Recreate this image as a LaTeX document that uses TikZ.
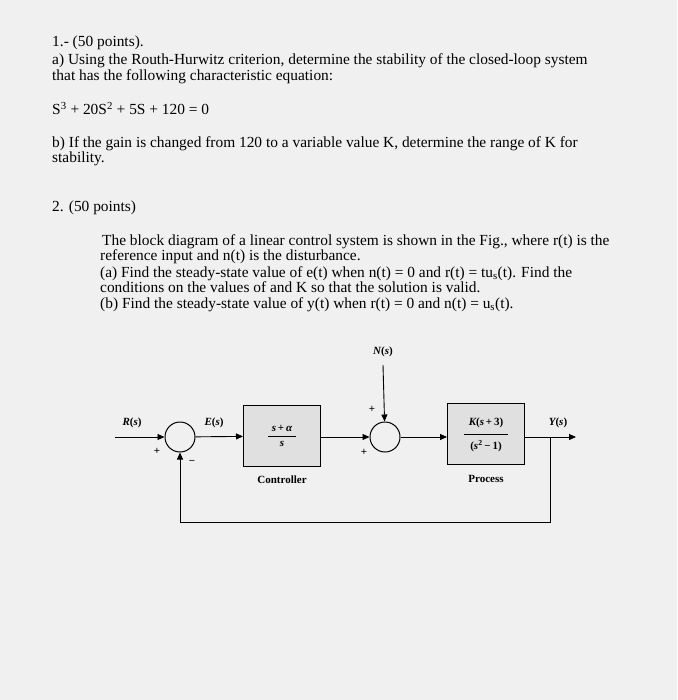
\documentclass[tikz,border=0pt]{standalone}
\usepackage{fontspec}
\setmainfont{Liberation Serif}
\usetikzlibrary{arrows.meta}
\begin{document}
\begin{tikzpicture}[x=1pt,y=-1pt,
  txt/.style={anchor=base west,inner sep=0pt,font=\fontsize{15.4}{16}\selectfont},
  lbl/.style={inner sep=0pt,font=\fontsize{11}{12}\selectfont\bfseries},
  blk/.style={draw,line width=1pt,fill=black!12,minimum width=77pt,minimum height=61pt},
  sumc/.style={draw,line width=1pt,circle,minimum size=30pt,inner sep=0pt},
  sig/.style={line width=0.9pt,-{Triangle[length=7pt,width=6pt]}},
  ln/.style={line width=0.8pt}]
\fill[black!6] (0,0) rectangle (677,700);
\useasboundingbox (0,0) rectangle (677,700);
\node[txt] (t1) at (52,47) {1.- (50 points).};
\node[txt] (t2) at (52,65) {a) Using the Routh-Hurwitz criterion, determine the stability of the closed-loop system};
\node[txt] (t3) at (52,81) {that has the following characteristic equation:};
\node[txt] (t4) at (52,115) {S\textsuperscript{3} + 20S\textsuperscript{2} + 5S + 120 = 0};
\node[txt] (t5) at (52,148) {b) If the gain is changed from 120 to a variable value K, determine the range of K for};
\node[txt] (t6) at (52,163) {stability.};
\node[txt] (t7) at (52,212) {2. (50 points)};
\node[txt] (t8) at (102,245) {The block diagram of a linear control system is shown in the Fig., where r(t) is the};
\node[txt] (t9) at (100,261) {reference input and n(t) is the disturbance.};
\node[txt] (t10) at (100,277) {(a) Find the steady-state value of e(t) when n(t) = 0 and r(t) = tu\textsubscript{s}(t). Find the};
\node[txt] (t11) at (100,292) {conditions on the values of and K so that the solution is valid.};
\node[txt] (t12) at (100,308) {(b) Find the steady-state value of y(t) when r(t) = 0 and n(t) = u\textsubscript{s}(t).};
% diagram
\coordinate (in) at (115,437);
\node[sumc] (s1) at (180,437) {};
\node[blk] (ctl) at (282,436) {};
\node[lbl] at (282,428) {\itshape s\,\upshape+\,\itshape α};
\draw[ln] (268,436) -- (296,436);
\node[lbl] at (282,444) {\itshape s};
\node[sumc] (s2) at (385,437) {};
\node[blk] (pr) at (486,434) {};
\node[lbl] at (486,423) {\itshape K\upshape(\itshape s\upshape\,+\,3)};
\draw[ln] (464,434) -- (508,434);
\node[lbl] at (486,446) {(\itshape s\upshape\textsuperscript{2}\,−\,1)};
\coordinate (out) at (576,437);
\coordinate (tap) at (550,437);
\coordinate (nn) at (383,365);
\draw[sig] (in) -- (s1);
\draw[sig] (s1) -- (ctl);
\draw[sig] (ctl.east |- s2) -- (s2);
\draw[sig] (s2) -- (pr.west |- s2);
\draw[sig] (pr.east |- out) -- (out);
\draw[sig] (tap) -- (550,522) -- (180,522) -- (s1);
\draw[sig] (nn) -- (s2);
\node[lbl] at (383,352) {\itshape N\upshape(\itshape s\upshape)};
\node[lbl] at (132,423) {\itshape R\upshape(\itshape s\upshape)};
\node[lbl] at (214,423) {\itshape E\upshape(\itshape s\upshape)};
\node[lbl] at (558,423) {\itshape Y\upshape(\itshape s\upshape)};
\node[lbl] at (282,480) {Controller};
\node[lbl] at (486,479) {Process};
\node[lbl] at (157,451) {+};
\node[lbl] at (192,462) {−};
\node[lbl] at (372,409) {+};
\node[lbl] at (364,452) {+};
\end{tikzpicture}
\end{document}
